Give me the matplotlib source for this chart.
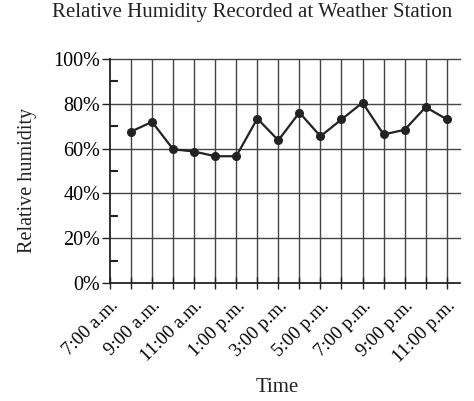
import matplotlib
matplotlib.use("Agg")
from matplotlib import pyplot as plt
import numpy as np

# hours of the day (24h clock), readings start at 8:00 a.m.
hours = [8, 9, 10, 11, 12, 13, 14, 15, 16, 17, 18, 19, 20, 21, 22, 23]
humidity = [67.6, 71.9, 59.7, 58.7, 56.6, 56.6, 73.4, 63.7,
            76.1, 65.5, 73.0, 80.5, 66.3, 68.4, 78.5, 73.1]

tick_hours = [7, 9, 11, 13, 15, 17, 19, 21, 23]
tick_labels = ['7:00 a.m.', '9:00 a.m.', '11:00 a.m.', '1:00 p.m.', '3:00 p.m.',
               '5:00 p.m.', '7:00 p.m.', '9:00 p.m.', '11:00 p.m.']
y_ticks = [0, 20, 40, 60, 80, 100]

plt.rcParams['font.family'] = ['Liberation Serif', 'DejaVu Serif']
ink = '#222222'

fig = plt.figure(figsize=(4.74, 4.01), dpi=100)
ax = fig.add_axes([0.232, 0.294, 0.738, 0.559])

# grid lines
for h in range(8, 24):
    ax.axvline(h, color='#444444', lw=1.0, zorder=1)
for y in y_ticks[1:]:
    ax.axhline(y, color='#444444', lw=1.0, zorder=1, clip_on=False)

ax.plot(hours, humidity, color=ink, lw=1.6, marker='o', markersize=5.5, zorder=3)

ax.set_xlim(7, 23.62)
ax.set_ylim(0, 100)

ax.set_xticks(range(7, 24))
ax.set_xticklabels([tick_labels[tick_hours.index(h)] if h in tick_hours else '' for h in range(7, 24)],
                   rotation=45, ha='right', va='top', rotation_mode='anchor', fontsize=13.5)
ax.tick_params(axis='x', direction='inout', length=8, width=1.0, color=ink, pad=6)

ax.set_yticks(y_ticks)
ax.set_yticklabels([f'{v}%' for v in y_ticks], fontsize=14.5)
ax.set_yticks([10, 30, 50, 70, 90], minor=True)
ax.tick_params(axis='y', which='major', direction='out', length=6, width=1.0, color=ink, pad=1)
ax.tick_params(axis='y', which='minor', direction='in', length=6, width=1.5, color=ink)

for s in ['top', 'right']:
    ax.spines[s].set_visible(False)
for s in ['left', 'bottom']:
    ax.spines[s].set_color(ink)
    ax.spines[s].set_linewidth(1.3)

fig.text(0.532, 0.968, 'Relative Humidity Recorded at Weather Station',
         ha='center', va='center', fontsize=15, color=ink)
fig.text(0.059, 0.55, 'Relative humidity', rotation=90, ha='center', va='center',
         fontsize=14.5, color=ink)
fig.text(0.585, 0.034, 'Time', ha='center', va='center', fontsize=15, color=ink)

fig.savefig('out.png', dpi=100, facecolor='white')
